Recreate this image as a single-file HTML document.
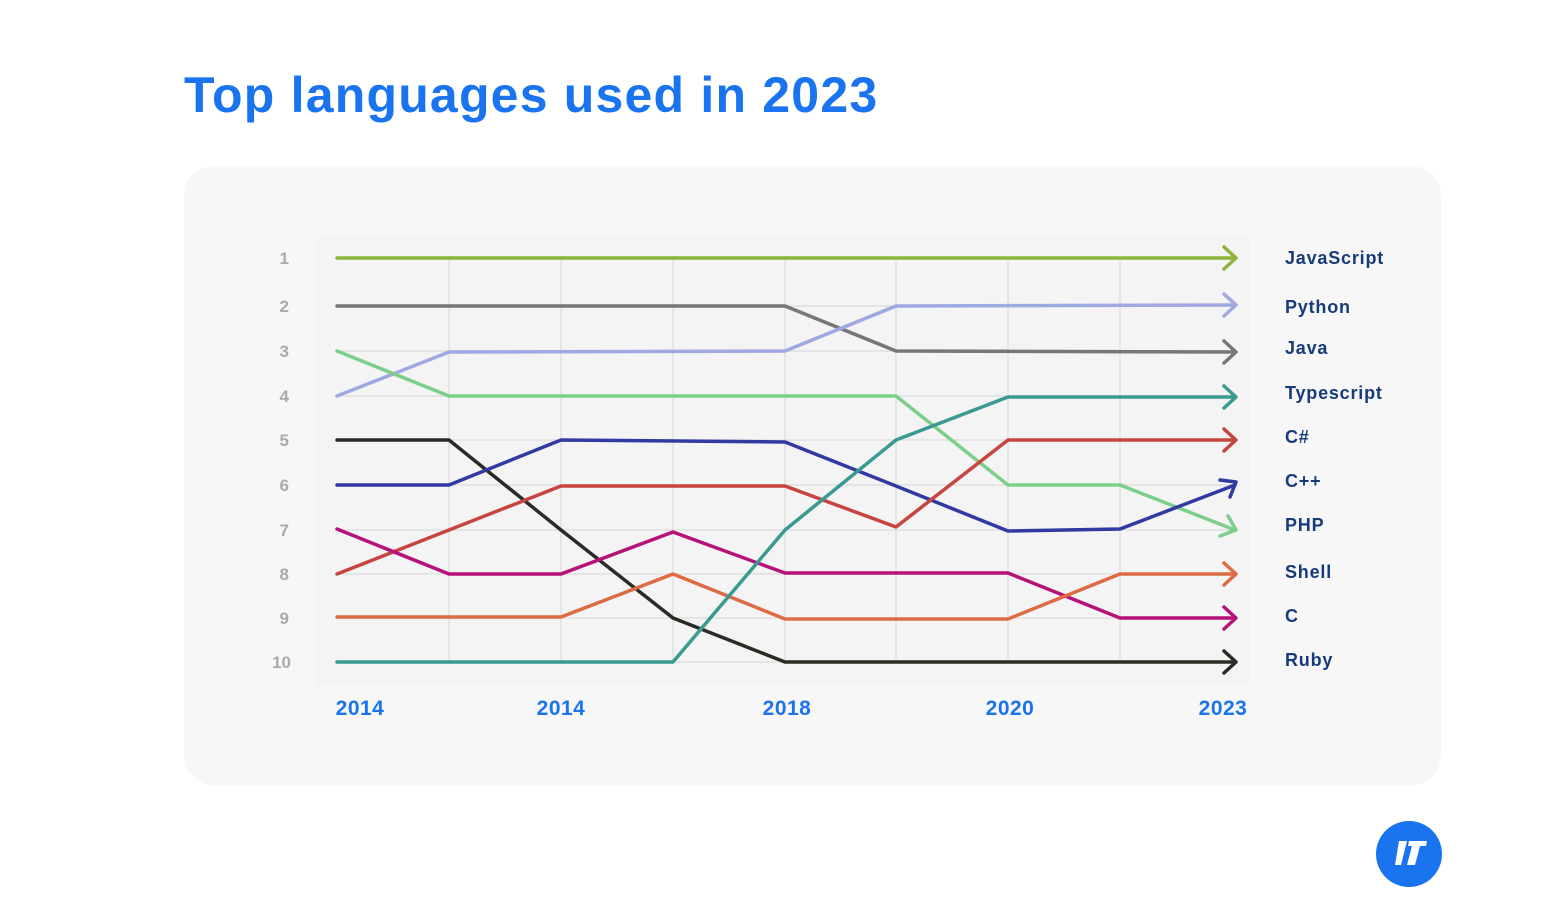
<!DOCTYPE html>
<html><head><style>
body{margin:0;width:1550px;height:910px;background:#fff;font-family:"Liberation Sans",sans-serif;position:relative;overflow:hidden}
h1{position:absolute;left:184px;top:66px;margin:0;font-size:50px;font-weight:bold;color:#1a74f0;letter-spacing:1.2px}
.card{position:absolute;left:184px;top:166px;width:1257px;height:619px;background:#f7f7f7;border-radius:30px}
</style></head><body>
<h1>Top languages used in 2023</h1>
<div class="card"></div>
<svg width="1550" height="910" style="position:absolute;left:0;top:0">
<rect x="316" y="236" width="934" height="450" fill="#f4f4f4"/>
<g stroke="#dcdcdc" stroke-width="1.2">
<line x1="337" x2="1235" y1="306" y2="306"/><line x1="337" x2="1235" y1="351" y2="351"/><line x1="337" x2="1235" y1="396" y2="396"/><line x1="337" x2="1235" y1="440" y2="440"/><line x1="337" x2="1235" y1="485" y2="485"/><line x1="337" x2="1235" y1="530" y2="530"/><line x1="337" x2="1235" y1="574" y2="574"/><line x1="337" x2="1235" y1="618" y2="618"/><line x1="337" x2="1235" y1="662" y2="662"/>
<line x1="449" x2="449" y1="258" y2="662"/><line x1="561" x2="561" y1="258" y2="662"/><line x1="673" x2="673" y1="258" y2="662"/><line x1="785" x2="785" y1="258" y2="662"/><line x1="896" x2="896" y1="258" y2="662"/><line x1="1008" x2="1008" y1="258" y2="662"/><line x1="1120" x2="1120" y1="258" y2="662"/>
</g>
<g font-size="17" fill="#aaa" text-anchor="end" font-weight="bold">
<text x="289" y="264">1</text><text x="289" y="312">2</text><text x="289" y="357">3</text><text x="289" y="402">4</text><text x="289" y="446">5</text><text x="289" y="491">6</text><text x="289" y="536">7</text><text x="289" y="580">8</text><text x="289" y="624">9</text><text x="291" y="668">10</text>
</g>
<g fill="none" stroke-width="3.5" stroke-linejoin="round" stroke-linecap="round">
<polyline stroke="#8db43a" points="337,258 1235,258"/>
<polyline stroke="#777" points="337,306 785,306 896,351 1235,352"/>
<polyline stroke="#a0a8e2" points="337,396 449,352 785,351 896,306 1235,305"/>
<polyline stroke="#7ccf8a" points="337,351 449,396 896,396 1008,485 1120,485 1235,530"/>
<polyline stroke="#2b2b25" points="337,440 449,440 561,530 673,618 785,662 1235,662"/>
<polyline stroke="#303aa0" points="337,485 449,485 561,440 785,442 896,486 1008,531 1120,529 1235,485"/>
<polyline stroke="#c8443f" points="337,574 449,530 561,486 785,486 896,527 1008,440 1235,440"/>
<polyline stroke="#b5127a" points="337,529 449,574 561,574 673,532 785,573 1008,573 1120,618 1235,618"/>
<polyline stroke="#dd6b45" points="337,617 561,617 673,574 785,619 1008,619 1120,574 1235,574"/>
<polyline stroke="#3a9a90" points="337,662 673,662 785,530 896,440 1008,397 1235,397"/>
</g>
<g fill="none" stroke-width="3.5" stroke-linecap="round" stroke-linejoin="round">
<polyline stroke="#8db43a" points="1224,247 1236,258 1224,269"/>
<polyline stroke="#a0a8e2" points="1224,294 1236,305 1224,316"/>
<polyline stroke="#777" points="1224,341 1236,352 1224,363"/>
<polyline stroke="#3a9a90" points="1224,386 1236,397 1224,408"/>
<polyline stroke="#c8443f" points="1224,429 1236,440 1224,451"/>
<polyline stroke="#303aa0" points="1220,480 1236,482 1230,497"/>
<polyline stroke="#7ccf8a" points="1228,516 1236,530 1220,536"/>
<polyline stroke="#dd6b45" points="1224,563 1236,574 1224,585"/>
<polyline stroke="#b5127a" points="1224,607 1236,618 1224,629"/>
<polyline stroke="#2b2b25" points="1224,651 1236,662 1224,673"/>
</g>
<g font-size="18" font-weight="bold" fill="#173b7a" letter-spacing="0.8">
<text x="1285" y="264">JavaScript</text><text x="1285" y="313">Python</text><text x="1285" y="354">Java</text><text x="1285" y="399">Typescript</text><text x="1285" y="443">C#</text><text x="1285" y="487">C++</text><text x="1285" y="531">PHP</text><text x="1285" y="578">Shell</text><text x="1285" y="622">C</text><text x="1285" y="666">Ruby</text>
</g>
<g font-size="21" font-weight="bold" fill="#1a74f0" text-anchor="middle" letter-spacing="0.5">
<text x="360" y="715">2014</text><text x="561" y="715">2014</text><text x="787" y="715">2018</text><text x="1010" y="715">2020</text><text x="1223" y="715">2023</text>
</g>
<circle cx="1409" cy="854" r="33" fill="#1a74f0"/>
<path d="M1399 841 h8 l-6 24 h-6z M1409 841 h18 l-1 5 h-6 l-5 19 h-8 l5 -19 h-4z" fill="#fff"/>
</svg>
</body></html>
